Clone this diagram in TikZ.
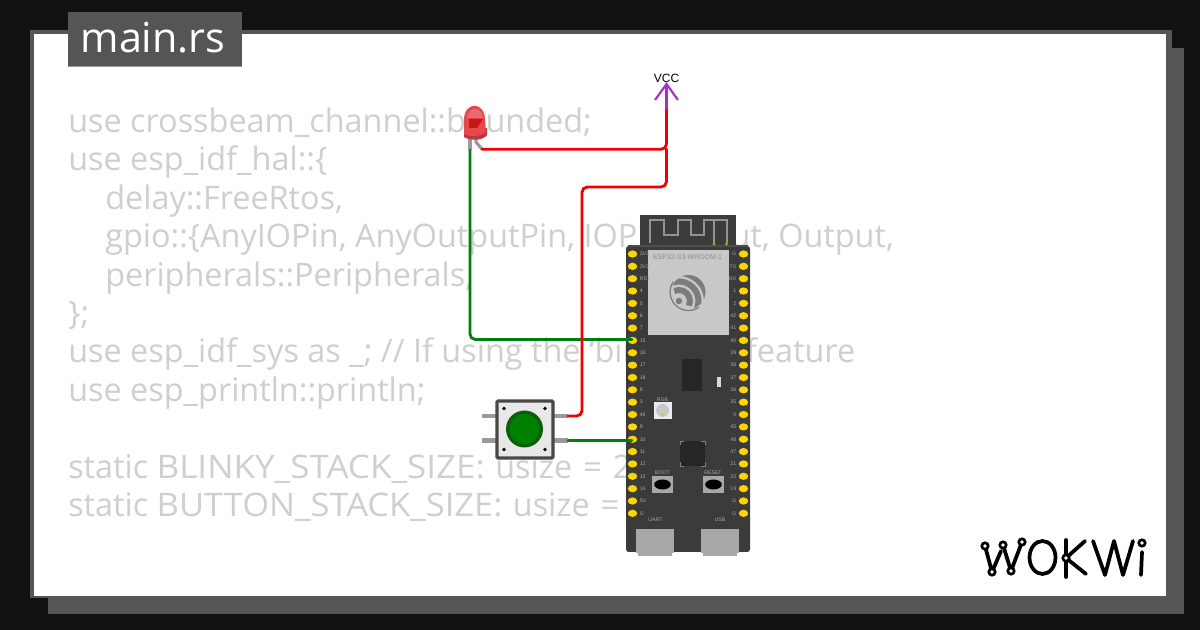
\documentclass[tikz,border=0pt]{standalone}
\usepackage{fontspec}
\setmainfont{Open Sans}
\newfontfamily\smallfont{Liberation Sans}
\usetikzlibrary{calc}
\definecolor{bgdark}{HTML}{111111}
\definecolor{framegrey}{HTML}{555555}
\definecolor{codegrey}{HTML}{CFCFCF}
\definecolor{boardgrey}{HTML}{3B3B3B}
\definecolor{pinyellow}{HTML}{FFD500}
\definecolor{silver}{HTML}{C8C8C8}
\definecolor{pintext}{HTML}{A8A8A8}
\definecolor{usbgrey}{HTML}{A8A8A8}
\definecolor{wirered}{HTML}{F00000}
\definecolor{wiregreen}{HTML}{007F10}
\definecolor{vccpurple}{HTML}{A62FC6}
\definecolor{ledred}{HTML}{E8474E}
\definecolor{legs}{HTML}{9A9A9A}
\definecolor{logogrey}{HTML}{7C7C7C}
\definecolor{btngreen}{HTML}{007F00}
\definecolor{btnrim}{HTML}{0B5F0B}
\newcommand{\widen}[2]{\scalebox{#1}[1]{#2}}
\tikzset{
  codeline/.style={anchor=base west,inner sep=0pt,text=codegrey,font=\fontsize{24.3}{24.3}\selectfont},
  pinl/.style={anchor=west,inner sep=0pt,text=pintext,font=\smallfont\fontsize{3.9}{4}\selectfont},
  pinr/.style={anchor=east,inner sep=0pt,text=pintext,font=\smallfont\fontsize{3.9}{4}\selectfont},
  boardlbl/.style={inner sep=0pt,text=pintext,font=\smallfont\fontsize{3.9}{4}\selectfont},
  wire/.style={line width=2.1pt,rounded corners=4pt,line cap=round},
  legline/.style={color=legs,line width=3.3pt},
  logostroke/.style={color=black,line width=2.8pt,line cap=round,line join=round},
  logodot/.style={draw=black,fill=white,line width=2pt},
  espband/.style={color=logogrey,line width=4.5pt},
}
\begin{document}
\begin{tikzpicture}[x=0.75pt,y=-0.75pt]
\useasboundingbox (0,0) rectangle (1200,630);
\fill[bgdark] (0,0) rectangle (1200,630);
\fill[framegrey] (48,48) rectangle (1184,614);
\fill[framegrey] (30,30) rectangle (1172,598);
\fill[white] (34,34) rectangle (1166,596);
% title tab
\fill[framegrey] (68,12) rectangle (242,66);
\draw[color=gray!80,line width=0.7pt] (68,66) -- (242,66);
\node[anchor=base,inner sep=0pt,text=white,font=\fontsize{31}{31}\selectfont] (title) at (153,53) {main.rs};
% code
\node[codeline] (c0) at (68,132.5) {use crossbeam\_channel::bounded;};
\node[codeline] (c1) at (68,170.9) {use esp\_idf\_hal::\{};
\node[codeline] (c2) at (105,209.3) {delay::FreeRtos,};
\node[codeline] (c3) at (105,247.7) {gpio::\{AnyIOPin, AnyOutputPin, IOPin, Input, Output,};
\node[codeline] (c4) at (105,286.1) {peripherals::Peripherals,};
\node[codeline] (c5) at (68,324.5) {\};};
\node[codeline] (c6) at (68,362.9) {use esp\_idf\_sys as \_; // If using the `binstart`\hspace{15pt} feature};
\node[codeline] (c7) at (68,401.3) {use esp\_println::println;};
\node[codeline] (c9) at (68,478.1) {static \widen{1.08}{BLINKY\_STACK\_SIZE:}\hspace{1.5pt} usize\hspace{2pt} =\hspace{2pt} 2};
\node[codeline] (c10) at (68,516.5) {static \widen{1.065}{BUTTON\_STACK\_SIZE:}\hspace{1.5pt} usize\hspace{2pt} =};
% antenna
\fill[boardgrey] (640,215) rectangle (736,250);
\draw[color=gray!85,line width=1.2pt,line join=miter] (650,243) -- (650,220) -- (664,220) -- (664,235) -- (678,235) -- (678,220) -- (691,220) -- (691,235) -- (704,235) -- (704,220) -- (727,220) -- (727,243);
\draw[color=gray!85,line width=1.2pt] (714,220) -- (714,243);
% board
\fill[boardgrey,rounded corners=2pt] (626,246) rectangle (750,552);
\draw[color=black!70,line width=0.8pt] (628,246) -- (748,246);
\fill[color=pinyellow!75!black] (714,244) circle (1.6) (726.5,244) circle (1.6);
% module
\fill[silver] (648,250) rectangle (729,335);
\node[inner sep=0pt,text=gray!90,font=\smallfont\fontsize{5.2}{6}\selectfont] (modname) at (687.5,257.5) {ESP32-S3-WROOM-1};
% espressif logo
\draw[color=logogrey,line width=0.9pt,shift={(688.5,292)}] (56:18.5) arc (56:214:18.5);
\begin{scope}
  \clip (688.5,292) circle (17);
  \begin{scope}[shift={(679,301)}]
    \draw[espband] (-115:11) arc (-115:25:11);
    \draw[espband] (-115:19.5) arc (-115:25:19.5);
    \draw[espband] (-115:28) arc (-115:25:28);
  \end{scope}
\end{scope}
\fill[color=logogrey] (679,301) circle (3.2);
% inner chips
\fill[color=black!85] (682,359) rectangle (702,391);
\fill[white!85!black] (717,377) rectangle (721,387);
\fill[color=black!85] (680,441) rectangle (705,466);
\draw[color=gray,line width=0.5pt] (680,445) -- (680,441) -- (684,441) (701,441) -- (705,441) -- (705,445) (680,462) -- (680,466) -- (684,466) (701,466) -- (705,466) -- (705,462);
% RGB led
\fill[white!92!black] (653.5,402) rectangle (671.5,419);
\fill[silver] (662.5,410.5) circle (6.5);
\fill[color=pinyellow!80!black] (662.5,414.5) circle (1);
\node[boardlbl] (rgblbl) at (662.5,399.5) {RGB};
% boot & reset
\fill[usbgrey] (652,476) rectangle (673,493);
\fill[black] (662.5,484.5) ellipse (8.3 and 5);
\fill[usbgrey] (703,476) rectangle (724,493);
\fill[black] (713.5,484.5) ellipse (8.3 and 5);
\node[boardlbl] (bootlbl) at (662.5,473) {BOOT};
\node[boardlbl] (resetlbl) at (713,473) {RESET};
\node[boardlbl] (uartlbl) at (655.5,519.5) {UART};
\node[boardlbl] (usblbl) at (720,519.5) {USB};
% usb
\fill[usbgrey] (636,529) rectangle (674,553);
\fill[usbgrey] (638,553) rectangle (672,556);
\fill[usbgrey] (701,529) rectangle (739,553);
\fill[usbgrey] (703,553) rectangle (737,556);
% pins
\foreach \n [count=\i from 0] in {3V3,3V3,RST,4,5,6,7,15,16,17,18,8,3,46,9,10,11,12,13,14,5V,G}{
  \fill[pinyellow] (632.5,254+12.35*\i) ellipse (4.7 and 3.6);
  \node[pinl] at (639.5,254+12.35*\i) {\n};
}
\foreach \n [count=\i from 0] in {G,TX,RX,1,2,42,41,40,39,38,37,36,35,0,45,48,47,21,20,19,G,G}{
  \fill[pinyellow] (743.5,254+12.35*\i) ellipse (4.7 and 3.6);
  \node[pinr] at (736.5,254+12.35*\i) {\n};
}
\coordinate (pin15) at (632,339.5);
\coordinate (pin10) at (632,440.3);
% VCC
\node[inner sep=0pt,font=\smallfont\fontsize{9}{9}\selectfont] (vcclbl) at (666.5,78) {VCC};
\draw[color=vccpurple,line width=1.6pt] (666.5,110) -- (666.5,84);
\draw[color=vccpurple,line width=1.6pt] (655,100) -- (666.5,84) -- (678,100);
\coordinate (vcc) at (666.5,110);
% LED
\draw[color=legs,line width=2.4pt] (470,138) -- (470,150);
\draw[color=legs,line width=2.4pt] (476,138) -- (476,142) -- (482,149.3);
\fill[color=ledred!80!black] (464,130) -- (487,128) -- (487,135) .. controls (483,141) and (470,141) .. (464,137) -- cycle;
\fill[color=ledred] (464,134) -- (464,120) .. controls (464,101) and (485,101) .. (485,120) -- (486,132) .. controls (480,137) and (470,137) .. (464,134) -- cycle;
\fill[color=red!70!black,opacity=0.65] (469,119) -- (483,119) -- (477,128) -- (469,128) -- cycle;
\fill[white,opacity=0.2] (467,118) .. controls (468,106) and (482,106) .. (483,118) -- cycle;
\coordinate (ledA) at (482,149.3);
\coordinate (ledC) at (470,150);
% button
\draw[legline] (482,416) -- (496,416) (482,440.5) -- (496,440.5) (553,416) -- (568,416) (553,440.5) -- (568,440.5);
\draw[draw=framegrey!85!black,fill=white!91!black,line width=2.5pt,rounded corners=1pt] (497,401) rectangle (553,458);
\foreach \p in {(504,408.5),(545,408.5),(504,449.5),(545,449.5)}{\fill[black] \p circle (1.8);}
\fill[color=btnrim] (524.5,429) circle (18.5);
\fill[color=btngreen] (524.5,429) circle (15);
\coordinate (btnTR) at (568,416);
\coordinate (btnBR) at (568,440.3);
% wires
\draw[wire,color=wiregreen] (ledC) -- (470,339.5) -- (pin15);
\draw[color=wiregreen,line width=2.1pt,line cap=round] (btnBR) -- (pin10);
\draw[wire,color=wirered] (ledA) -- (666.5,149.3) -- (vcc);
\draw[wire,color=wirered] (btnTR) -- (582,416) -- (582,187) -- (666.5,187) -- (666.5,149.3);
% WOKWI
\draw[logostroke] (985,546) -- (992,572) -- (1001,551);
\draw[logostroke] (1003,545) -- (1011,571) -- (1022,542);
\draw[logostroke] (1042.5,557.5) ellipse (13 and 16.5);
\draw[logostroke] (1066,540) -- (1066,577);
\draw[logostroke] (1066,558) -- (1085,541);
\draw[logostroke] (1066,558) -- (1086,574);
\draw[logostroke] (1093,541) -- (1105,575) -- (1114,541) -- (1123,575) -- (1133,541);
\draw[logostroke] (1142,552) -- (1141,575);
\foreach \p in {(985,546),(1003,545),(1022,542),(992,572),(1011,571),(1066,558),(1142,543)}{
  \filldraw[logodot] \p circle (3.2);
}
\end{tikzpicture}
\end{document}
